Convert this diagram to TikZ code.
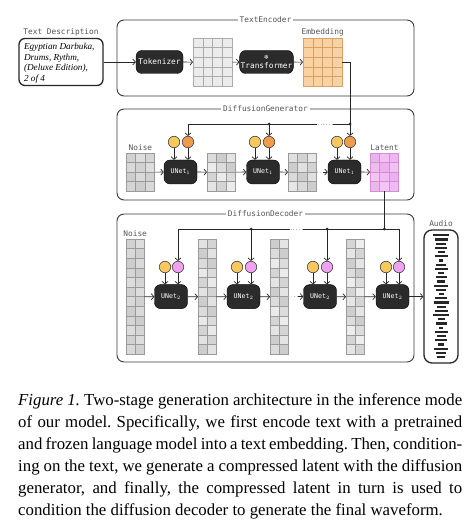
\documentclass[tikz,border=0pt]{standalone}
\usepackage{fontspec}
\setmainfont{Liberation Serif}
\newfontfamily\diagmono{DejaVu Sans Mono}
\newfontfamily\diagsym{DejaVu Sans}
\usetikzlibrary{arrows.meta,positioning,calc}
\definecolor{framegray}{HTML}{3A3A3A}
\definecolor{labelgray}{HTML}{555555}
\definecolor{blockfill}{HTML}{2B2B2B}
\definecolor{tokencell}{HTML}{ECECEC}
\definecolor{tokencellline}{HTML}{ABABAB}
\definecolor{cellgray}{HTML}{CDCDCD}
\definecolor{cellgrayline}{HTML}{9A9A9A}
\definecolor{embed}{HTML}{F8D2A2}
\definecolor{embedline}{HTML}{D9A265}
\definecolor{latent}{HTML}{EDB0EE}
\definecolor{latentline}{HTML}{D48DD5}
\definecolor{condyellow}{HTML}{F6C85E}
\definecolor{condorange}{HTML}{EE9B4E}
\definecolor{condpink}{HTML}{EEA2EF}
\tikzset{
  stageframe/.style={draw=framegray,rounded corners=7pt,line width=0.9pt,inner sep=0pt},
  stagetitle/.style={fill=white,inner sep=2pt,text=labelgray,font=\diagmono\fontsize{7.8}{9}\selectfont},
  taglabel/.style={inner sep=1pt,text=labelgray,font=\diagmono\fontsize{7.8}{9}\selectfont},
  promptbox/.style={draw=black!85,rounded corners=6pt,line width=1.3pt,minimum width=84pt,minimum height=47pt,text width=74pt,inner xsep=5pt,inner ysep=0pt,align=flush left,font=\itshape\fontsize{9.2}{10.4}\selectfont},
  darkblock/.style={draw=black,fill=blockfill,rounded corners=6pt,text=white,inner sep=1pt,align=center,font=\diagmono\fontsize{7.8}{8.5}\selectfont},
  unetblock/.style={darkblock,minimum width=33pt,minimum height=24pt,font=\diagmono\fontsize{6.6}{8}\selectfont},
  condnode/.style={circle,draw=black!75,line width=0.6pt,minimum size=11.5pt,inner sep=0pt},
  busdot/.style={circle,fill=black!85,minimum size=3pt,inner sep=0pt},
  flow/.style={-{Straight Barb[length=2.6pt,width=6pt]},line width=0.7pt,draw=black!85},
  bus/.style={line width=0.7pt,draw=black!85},
  busgap/.style={line width=0.9pt,draw=black!30,dotted},
  waveline/.style={line width=2.2pt,draw=black!85}
}
% tensor drawn cell by cell: name, left, top, cols, rows, cell w, cell h, colour, tint spread
\newcommand{\tensorgrid}[9]{%
  \pgfmathsetmacro{\tgw}{#4*#6}%
  \pgfmathsetmacro{\tgh}{#5*#7}%
  \foreach \gc in {1,...,#4}{%
    \foreach \gr in {1,...,#5}{%
      \pgfmathtruncatemacro{\tint}{100-mod(\gc*3+\gr*7+#2,5)*#9}%
      \filldraw[fill=#8!\tint!white,draw=#8line,line width=0.4pt]
        ({#2+(\gc-1)*#6},{#3+(\gr-1)*#7}) rectangle ++(#6,#7);
    }%
  }%
  \node[inner sep=0pt,minimum width=\tgw pt,minimum height=\tgh pt,anchor=north west] (#1) at (#2,#3) {};%
}

\begin{document}
\begin{tikzpicture}[x=1pt,y=-1pt]
  \useasboundingbox (0,0) rectangle (474,526);
  % text encoder
  \node[stageframe,minimum width=297pt,minimum height=76pt] (encoder) at (265.5,58) {};
  \node[stagetitle] (encodertitle) at (encoder.north) {TextEncoder};
  \node[promptbox] (prompt) at (61,62) {\rule{0pt}{9pt}Egyptian Darbuka,\\Drums, Rythm,\\(Deluxe Edition),\\2 of 4};
  \node[taglabel,above=1pt of prompt] (promptlabel) {Text Description};
  \node[darkblock,minimum width=47pt,minimum height=23pt] (tokenizer) at (159.5,62) {Tokenizer};
  \tensorgrid{tokens}{193}{38}{4}{5}{9.75}{9.6}{tokencell}{0}
  \node[darkblock,minimum width=53pt,minimum height=23pt] (transformer) at (266.5,62) {{\diagsym\fontsize{6}{6}\selectfont ❄}\\Transformer};
  \tensorgrid{embedding}{303}{38}{4}{5}{9.75}{9.6}{embed}{0}
  \node[taglabel,above=1pt of embedding] (embeddinglabel) {Embedding};
  \draw[flow] (prompt) -- (tokenizer);
  \draw[flow] (tokenizer) -- (tokens);
  \draw[flow] (tokens) -- (transformer);
  \draw[flow] (transformer) -- (embedding);

  % diffusion generator
  \node[stageframe,minimum width=297pt,minimum height=91pt] (generator) at (265.5,154.5) {};
  \node[stagetitle] (generatortitle) at (generator.north) {DiffusionGenerator};
  \tensorgrid{gnoise}{126}{153}{3}{4}{9.5}{9.5}{cellgray}{8}
  \node[taglabel,above=1pt of gnoise] (gnoiselabel) {Noise};
  \tensorgrid{gstep2}{207}{153}{3}{4}{9.5}{9.5}{cellgray}{15}
  \tensorgrid{gstep3}{288}{153}{3}{4}{9.5}{9.5}{cellgray}{13}
  \tensorgrid{latent}{370}{153}{3}{4}{9.5}{9.5}{latent}{7}
  \node[taglabel,above=1pt of latent] (latentlabel) {Latent};
  \foreach \i/\xa/\xb/\xu in {1/174/188/180.5,2/255/269/263,3/337/350/344.5}{
    \node[unetblock] (gunet\i) at (\xu,172) {UNet$_1$};
    \node[condnode,fill=condyellow] (gy\i) at (\xa,142) {};
    \node[condnode,fill=condorange] (go\i) at (\xb,142) {};
    \draw[flow] (gy\i.south) -- (gy\i.south |- gunet\i.north);
    \draw[flow] (go\i.south) -- (go\i.south |- gunet\i.north);
  }
  \draw[flow] (gnoise) -- (gunet1);
  \draw[flow] (gunet1) -- (gstep2);
  \draw[flow] (gstep2) -- (gunet2);
  \draw[flow] (gunet2) -- (gstep3);
  \coordinate (gdotsend) at ($(gunet3.west)+(-5,0)$);
  \draw[busgap] (gstep3.east) -- (gdotsend);
  \draw[flow] (gdotsend) -- (gunet3.west);
  \draw[flow] (gunet3) -- (latent);
  % text conditioning bus
  \coordinate (gjoin) at (350,124);
  \coordinate (ggapR) at (333,124);
  \coordinate (ggapL) at (317,124);
  \draw[flow] (embedding.east) -| (go3.north);
  \draw[bus] (gjoin) -- (ggapR);
  \draw[busgap] (ggapR) -- (ggapL);
  \draw[flow] (ggapL) -| (go1.north);
  \draw[flow] (go2 |- gjoin) -- (go2.north);
  \node[busdot] (gdot2) at (go2 |- gjoin) {};
  \node[busdot] (gdot3) at (gjoin) {};

  % diffusion decoder
  \node[stageframe,minimum width=297pt,minimum height=148pt] (decoder) at (265.5,288) {};
  \node[stagetitle] (decodertitle) at (decoder.north) {DiffusionDecoder};
  \tensorgrid{dnoise}{126}{239}{2}{12}{9}{9.6}{cellgray}{8}
  \node[taglabel,above=1pt of dnoise] (dnoiselabel) {Noise};
  \tensorgrid{dstep2}{198}{239}{2}{12}{9}{9.6}{cellgray}{14}
  \tensorgrid{dstep3}{270}{239}{2}{12}{9}{9.6}{cellgray}{15}
  \tensorgrid{dstep4}{346}{239}{2}{12}{9}{9.6}{cellgray}{16}
  \foreach \i/\xa/\xb/\xu in {1/165/178/171,2/237/251/243.5,3/313/327/320,4/386/399/392.5}{
    \node[unetblock] (dunet\i) at (\xu,296.6) {UNet$_2$};
    \node[condnode,fill=condyellow] (dy\i) at (\xa,267) {};
    \node[condnode,fill=condpink] (dp\i) at (\xb,267) {};
    \draw[flow] (dy\i.south) -- (dy\i.south |- dunet\i.north);
    \draw[flow] (dp\i.south) -- (dp\i.south |- dunet\i.north);
  }
  \node[draw=black!85,line width=1.3pt,rounded corners=8pt,minimum width=34pt,minimum height=133pt,inner sep=0pt] (audio) at (441,296.5) {};
  \node[taglabel,above=2pt of audio] (audiolabel) {Audio};
  \foreach \w [count=\k from 0] in {16,13,10,12,7,13,4,10,13,6,11,8,14,10,5,12,15,9,13,16,7,11,4,13,9,12,6,14,10,8}
    \draw[waveline] ($(audio.north)+(-\w/2,6+\k*4.2)$) -- ++(\w,0);
  \draw[flow] (dnoise) -- (dunet1);
  \draw[flow] (dunet1) -- (dstep2);
  \draw[flow] (dstep2) -- (dunet2);
  \draw[flow] (dunet2) -- (dstep3);
  \coordinate (ddotsend) at ($(dunet3.west)+(-5,0)$);
  \draw[busgap] (dstep3.east) -- (ddotsend);
  \draw[flow] (ddotsend) -- (dunet3.west);
  \draw[flow] (dunet3) -- (dstep4);
  \draw[flow] (dstep4) -- (dunet4);
  \draw[flow] (dunet4) -- (audio);
  % latent conditioning bus
  \coordinate (dlevel) at (0,229);
  \coordinate (djoin) at (latent.south |- dlevel);
  \coordinate (dgapR) at (303,229);
  \coordinate (dgapL) at (290,229);
  \draw[flow] (latent.south) -- (djoin) -| (dp4.north);
  \draw[bus] (djoin) -- (dgapR);
  \draw[busgap] (dgapR) -- (dgapL);
  \draw[flow] (dgapL) -| (dp1.north);
  \draw[flow] (dp2 |- dlevel) -- (dp2.north);
  \draw[flow] (dp3 |- dlevel) -- (dp3.north);
  \node[busdot] (ddot2) at (dp2 |- dlevel) {};
  \node[busdot] (ddot3) at (dp3 |- dlevel) {};
  \node[busdot] (ddotj) at (djoin) {};

  % caption
  \node[anchor=north west,inner sep=0pt,text width=444pt,align=justify,font=\fontsize{16.8}{22}\selectfont\frenchspacing] (caption) at (18,393) {\textit{Figure 1.} Two-stage generation architecture in the inference mode\linebreak of our model. Specifically, we first encode text with a pretrained\linebreak and frozen language model into a text embedding. Then, condition-\linebreak ing on the text, we generate a compressed latent with the diffusion\linebreak generator, and finally, the compressed latent in turn is used to\linebreak condition the diffusion decoder to generate the final waveform.};
\end{tikzpicture}
\end{document}
